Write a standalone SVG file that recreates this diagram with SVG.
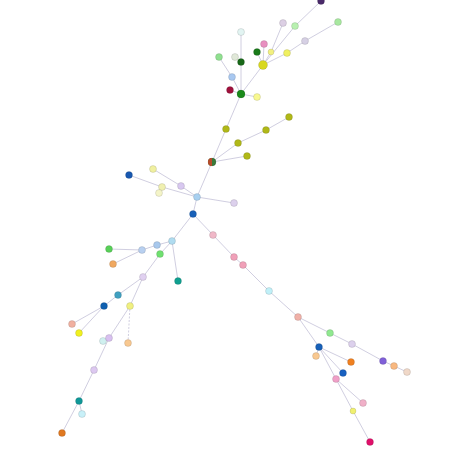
<svg xmlns="http://www.w3.org/2000/svg" width="474" height="474" viewBox="0 0 474 474">
<style>
.e{stroke:#c4c2d8;stroke-width:0.8;fill:none}
.d{stroke-dasharray:2,1.5}
.n circle{stroke:#000;stroke-opacity:0.18;stroke-width:0.6}
</style>
<rect width="474" height="474" fill="#fff"/>
<g id="edges">
<path class="e" d="M263,65L295,26L321,1M263,65L287,53L305,41L338,22M263,65L271,52L283,23M263,65L264,44M263,65L257,52M241,32L241,62L241,94M219,57L232,77L241,94M230,90L241,94M257,97L241,94M263,65L241,94M241,94L226,129L212,162M212,162L238,143L266,130L289,117M212,162L247,156M212,162L197,197M153,169L181,186L197,197M129,175L162,187L197,197M197,197L234,203M197,197L193,214L213,235L234,257L243,265L269,291L298,317M193,214L172,241M172,241L157,245L142,250L109,249M142,250L113,264M172,241L160,254L143,277L118,295L104,306L72,324M104,306L79,333M172,241L178,281M143,277L130,306L109,338L94,370L79,401L62,433M79,401L82,414M298,317L330,333L352,344L383,361L394,366L407,372M298,317L319,347L336,379L353,411L370,442M319,347L316,356M319,347L351,362M319,347L343,373M336,379L363,403"/>
<path class="e d" d="M130,306L128,343"/>
</g>
<g class="n">
<g id="n1"><circle cx="321" cy="1" r="3.5" fill="#4a2a6a"/></g>
<g id="n2"><circle cx="338" cy="22" r="3.5" fill="#a8e8a0"/></g>
<g id="n3"><circle cx="283" cy="23" r="3.5" fill="#dccfe4"/></g>
<g id="n4"><circle cx="295" cy="26" r="3.5" fill="#b8f0b0"/></g>
<g id="n5"><circle cx="241" cy="32" r="3.5" fill="#e2f4f2"/></g>
<g id="n6"><circle cx="305" cy="41" r="3.5" fill="#d6d0e4"/></g>
<g id="n7"><circle cx="264" cy="44" r="3.5" fill="#e890c0"/></g>
<g id="n8"><circle cx="257" cy="52" r="3.5" fill="#1a7a1a"/></g>
<g id="n9"><circle cx="271" cy="52" r="3" fill="#f2f080"/></g>
<g id="n10"><circle cx="287" cy="53" r="3.5" fill="#f0f060"/></g>
<g id="n11"><circle cx="219" cy="57" r="3.5" fill="#90e090"/></g>
<g id="n12"><circle cx="235" cy="57" r="3.5" fill="#e0e8d8"/></g>
<g id="n13"><circle cx="241" cy="62" r="3.5" fill="#186818"/></g>
<g id="n14"><circle cx="263" cy="65" r="4.5" fill="#d8d820"/></g>
<g id="n15"><circle cx="232" cy="77" r="3.5" fill="#a8c8f0"/></g>
<g id="n16"><circle cx="230" cy="90" r="3.5" fill="#a0103c"/></g>
<g id="n17"><circle cx="241" cy="94" r="4" fill="#1a8a1a"/></g>
<g id="n18"><circle cx="257" cy="97" r="3.5" fill="#f8f890"/></g>
<g id="n19"><circle cx="226" cy="129" r="3.5" fill="#b0b818"/></g>
<g id="n20"><circle cx="212" cy="162" r="4" fill="#3a7a3a"/><path d="M212,158A4,4 0 0 0 212,166Z" fill="#b84a2a"/></g>
<g id="n21"><circle cx="238" cy="143" r="3.5" fill="#b0b818"/></g>
<g id="n22"><circle cx="266" cy="130" r="3.5" fill="#b0b818"/></g>
<g id="n23"><circle cx="289" cy="117" r="3.5" fill="#b0b818"/></g>
<g id="n24"><circle cx="247" cy="156" r="3.5" fill="#b0b818"/></g>
<g id="n25"><circle cx="197" cy="197" r="3.5" fill="#a8d0f0"/></g>
<g id="n26"><circle cx="181" cy="186" r="3.5" fill="#d8c8f0"/></g>
<g id="n27"><circle cx="153" cy="169" r="3.5" fill="#f0f0a0"/></g>
<g id="n28"><circle cx="129" cy="175" r="3.5" fill="#1858b0"/></g>
<g id="n29"><circle cx="162" cy="187" r="3.5" fill="#f0f0b0" stroke="#b8b860"/></g>
<g id="n30"><circle cx="159" cy="193" r="3.5" fill="#f4f4c8" stroke="#b8b860"/></g>
<g id="n31"><circle cx="234" cy="203" r="3.5" fill="#dcd0ec"/></g>
<g id="n32"><circle cx="193" cy="214" r="3.5" fill="#1860b8"/></g>
<g id="n33"><circle cx="213" cy="235" r="3.5" fill="#f0b8c8"/></g>
<g id="n34"><circle cx="172" cy="241" r="3.5" fill="#b0dcf0"/></g>
<g id="n35"><circle cx="157" cy="245" r="3.5" fill="#a8c8ec"/></g>
<g id="n36"><circle cx="142" cy="250" r="3.5" fill="#b8d0f0"/></g>
<g id="n37"><circle cx="109" cy="249" r="3.5" fill="#58d058"/></g>
<g id="n38"><circle cx="113" cy="264" r="3.5" fill="#f0a860"/></g>
<g id="n39"><circle cx="160" cy="254" r="3.5" fill="#70e070"/></g>
<g id="n40"><circle cx="143" cy="277" r="3.5" fill="#e0d0f0"/></g>
<g id="n41"><circle cx="178" cy="281" r="3.5" fill="#10a090"/></g>
<g id="n42"><circle cx="118" cy="295" r="3.5" fill="#40a0c0"/></g>
<g id="n43"><circle cx="104" cy="306" r="3.5" fill="#1060b0"/></g>
<g id="n44"><circle cx="130" cy="306" r="3.5" fill="#f0f080"/></g>
<g id="n45"><circle cx="72" cy="324" r="3.5" fill="#f0b0a0"/></g>
<g id="n46"><circle cx="79" cy="333" r="3.5" fill="#f0f020"/></g>
<g id="n48"><circle cx="103" cy="341" r="3.5" fill="#d0f0f0"/></g>
<g id="n47"><circle cx="109" cy="338" r="3.5" fill="#d8c0f0"/></g>
<g id="n49"><circle cx="128" cy="343" r="3.5" fill="#f8c890"/></g>
<g id="n50"><circle cx="94" cy="370" r="3.5" fill="#dcc8f0"/></g>
<g id="n51"><circle cx="79" cy="401" r="3.5" fill="#109898"/></g>
<g id="n52"><circle cx="82" cy="414" r="3.5" fill="#c8f0f8"/></g>
<g id="n53"><circle cx="62" cy="433" r="3.5" fill="#e07820"/></g>
<g id="n54"><circle cx="234" cy="257" r="3.5" fill="#f0a0b8"/></g>
<g id="n55"><circle cx="243" cy="265" r="3.5" fill="#f0a0b8"/></g>
<g id="n56"><circle cx="269" cy="291" r="3.5" fill="#c0f0f8"/></g>
<g id="n57"><circle cx="298" cy="317" r="3.5" fill="#f0b0a8"/></g>
<g id="n58"><circle cx="330" cy="333" r="3.5" fill="#90e890"/></g>
<g id="n59"><circle cx="352" cy="344" r="3.5" fill="#dcd0ec"/></g>
<g id="n60"><circle cx="383" cy="361" r="3.5" fill="#8060d8"/></g>
<g id="n61"><circle cx="394" cy="366" r="3.5" fill="#f8b880"/></g>
<g id="n62"><circle cx="407" cy="372" r="3.5" fill="#f0d8c8"/></g>
<g id="n63"><circle cx="319" cy="347" r="3.5" fill="#1860b8"/></g>
<g id="n64"><circle cx="316" cy="356" r="3.5" fill="#f8c890"/></g>
<g id="n65"><circle cx="351" cy="362" r="3.5" fill="#f08020"/></g>
<g id="n66"><circle cx="343" cy="373" r="3.5" fill="#1860c0"/></g>
<g id="n67"><circle cx="336" cy="379" r="3.5" fill="#f0a0c8"/></g>
<g id="n68"><circle cx="363" cy="403" r="3.5" fill="#f0b0c8"/></g>
<g id="n69"><circle cx="353" cy="411" r="3" fill="#f0f070"/></g>
<g id="n70"><circle cx="370" cy="442" r="3.5" fill="#e0106a"/></g>
</g>
</svg>
